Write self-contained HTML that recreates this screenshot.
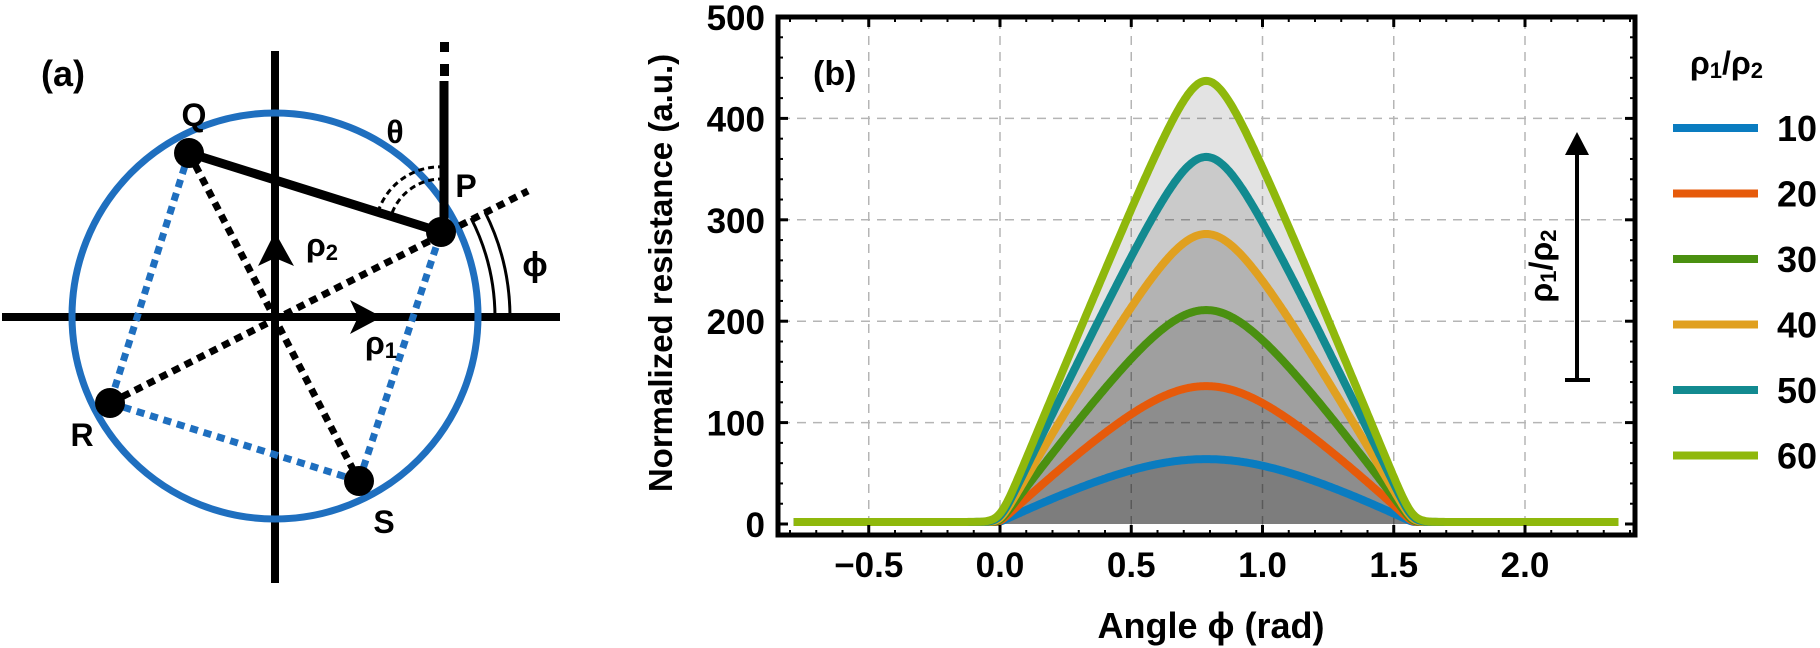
<!DOCTYPE html>
<html><head><meta charset="utf-8"><style>
html,body{margin:0;padding:0;background:#fff;}
svg{display:block;}
text{font-family:"Liberation Sans",Arial,sans-serif;font-weight:bold;fill:#000;}
</style></head><body>
<svg id="s" width="1820" height="648" viewBox="0 0 1820 648" xmlns="http://www.w3.org/2000/svg">
<g>
<line x1="2" y1="317" x2="560" y2="317" stroke="#000" stroke-width="8"/>
<line x1="275" y1="51" x2="275" y2="583" stroke="#000" stroke-width="8"/>
<circle cx="275" cy="316" r="203" fill="none" stroke="#1f6fbf" stroke-width="7"/>
<g stroke="#1f6fbf" stroke-width="7" stroke-dasharray="8,6" fill="none">
<line x1="189" y1="153" x2="110" y2="403"/>
<line x1="110" y1="403" x2="359" y2="481"/>
<line x1="359" y1="481" x2="441" y2="232"/>
</g>
<g stroke="#000" stroke-width="7" stroke-dasharray="8,6" fill="none">
<line x1="110" y1="403" x2="528" y2="191"/>
<line x1="189" y1="153" x2="359" y2="481"/>
<path d="M444,167 A65,65 0 0 0 378,212" stroke-width="3" stroke-dasharray="6,4"/>
<path d="M444,179 A53,53 0 0 0 391,216" stroke-width="3" stroke-dasharray="6,4"/>
</g>
<line x1="189" y1="153" x2="441" y2="232" stroke="#000" stroke-width="9"/>
<line x1="444" y1="232" x2="444" y2="81" stroke="#000" stroke-width="9"/>
<rect x="440" y="42" width="9" height="10"/>
<rect x="440" y="64" width="9" height="12"/>
<path d="M495,317 A220,220 0 0 0 471,218" fill="none" stroke="#000" stroke-width="3"/>
<path d="M510,317 A235,235 0 0 0 485,212" fill="none" stroke="#000" stroke-width="3"/>
<polygon points="275,232 258,266 275,258 294,266"/>
<polygon points="382,317 350,300 358,317 350,334"/>
<circle cx="189" cy="153" r="15"/>
<circle cx="441" cy="232" r="15"/>
<circle cx="110" cy="403" r="15"/>
<circle cx="359" cy="481" r="15"/>
<text x="63" y="86" font-size="36" text-anchor="middle">(a)</text>
<text x="194" y="126" font-size="32" text-anchor="middle">Q</text>
<text x="466" y="197" font-size="32" text-anchor="middle">P</text>
<text x="82" y="446" font-size="32" text-anchor="middle">R</text>
<text x="384" y="533" font-size="32" text-anchor="middle">S</text>
<text x="395" y="143" font-size="32" text-anchor="middle">θ</text>
<text x="535" y="276" font-size="34" text-anchor="middle">ϕ</text>
<text x="322" y="256" font-size="32" text-anchor="middle">ρ<tspan font-size="22" dy="4">2</tspan></text>
<text x="381" y="354" font-size="32" text-anchor="middle">ρ<tspan font-size="22" dy="4">1</tspan></text>
</g>
<g id="grid" stroke="#b5b5b5" stroke-width="1.5" stroke-dasharray="9,7"></g>
<g id="fills"></g>
<g id="lines" fill="none" stroke-width="8" stroke-linejoin="round"></g>
<g id="ticks" stroke="#000"></g>
<rect x="778" y="17" width="857" height="518" fill="none" stroke="#000" stroke-width="5"/>
<g id="labels"></g>
<text x="813" y="85" font-size="34">(b)</text>
<text transform="translate(672,273) rotate(-90)" font-size="33" text-anchor="middle">Normalized resistance (a.u.)</text>
<text x="1211" y="638" font-size="36" text-anchor="middle">Angle ϕ (rad)</text>
<line x1="1577" y1="150" x2="1577" y2="380" stroke="#000" stroke-width="4"/>
<polygon points="1577,132 1565,155 1589,155"/>
<line x1="1565" y1="380" x2="1590" y2="380" stroke="#000" stroke-width="4"/>
<text transform="translate(1552,266) rotate(-90)" font-size="32" text-anchor="middle">ρ<tspan font-size="22" dy="4">1</tspan><tspan dy="-4">/ρ</tspan><tspan font-size="22" dy="4">2</tspan></text>
<text x="1690" y="74" font-size="32">ρ<tspan font-size="22" dy="4">1</tspan><tspan dy="-4">/ρ</tspan><tspan font-size="22" dy="4">2</tspan></text>
<g id="legend"></g>
</svg>
<script>
var NS="http://www.w3.org/2000/svg";
function el(p,t,a,txt){var e=document.createElementNS(NS,t);for(var k in a)e.setAttribute(k,a[k]);if(txt!==undefined)e.textContent=txt;document.getElementById(p).appendChild(e);return e;}
function X(x){return 1000+262.5*x;}
function Y(v){return 524-1.014*v;}
var i;
for(i=-0.5;i<=2.01;i+=0.5){el("grid","line",{x1:X(i),y1:20,x2:X(i),y2:532});}
for(i=100;i<=400;i+=100){el("grid","line",{x1:781,y1:Y(i),x2:1632,y2:Y(i)});}
for(i=-8;i<=24;i++){var x=X(i/10);var maj=(i%5===0);var L=maj?10:5;var w=maj?3:2;
 el("ticks","line",{x1:x,y1:535,x2:x,y2:535-L,"stroke-width":w});
 el("ticks","line",{x1:x,y1:17,x2:x,y2:17+L,"stroke-width":w});}
for(i=0;i<=25;i++){var v=i*20;var y=Y(v);var maj=(i%5===0);var L=maj?10:5;var w=maj?3:2;
 el("ticks","line",{x1:778,y1:y,x2:778+L,y2:y,"stroke-width":w});
 el("ticks","line",{x1:1635,y1:y,x2:1635-L,y2:y,"stroke-width":w});}
var xl=[[-0.5,"\u22120.5"],[0,"0.0"],[0.5,"0.5"],[1,"1.0"],[1.5,"1.5"],[2,"2.0"]];
xl.forEach(function(d){el("labels","text",{x:X(d[0]),y:577,"font-size":35,"text-anchor":"middle"},d[1]);});
for(i=0;i<=500;i+=100){el("labels","text",{x:765,y:Y(i)+13,"font-size":35,"text-anchor":"end"},String(i));}
// [A, c (peak rounding), k (foot rounding), color]
var series=[[62,0.6,0.008,"#0a7cc0"],[134,0.4,0.012,"#e65a0a"],[209,0.3,0.016,"#4a9010"],[284,0.22,0.02,"#e0a020"],[360,0.17,0.024,"#128a90"],[435,0.13,0.028,"#8fb80c"]];
function val(s,f){var A=s[0],c=s[1],k=s[2];var u=(f-Math.PI/4)/(Math.PI/4);
 var g=1-(Math.sqrt(u*u+c*c)-c)/(Math.sqrt(1+c*c)-c);
 var z=g/k;var gs=z>30?g:k*Math.log(1+Math.exp(z));
 return A*gs+2;}
var x0=-Math.PI/4,x1=3*Math.PI/4,N=500;
series.forEach(function(s){
 var pts=[];for(var j=0;j<=N;j++){var f=x0+(x1-x0)*j/N;pts.push([X(f),Y(val(s,f))]);}
 var d="M"+pts.map(function(p){return p[0].toFixed(1)+","+p[1].toFixed(1);}).join(" L");
 el("fills","path",{d:d+" L"+X(x1)+","+Y(0)+" L"+X(x0)+","+Y(0)+" Z",fill:"rgba(0,0,0,0.11)"});
 s.d=d;});
series.forEach(function(s){el("lines","path",{d:s.d,stroke:s[3]});});
series.forEach(function(s,idx){var y=128+65.5*idx;
 el("legend","line",{x1:1673,y1:y,x2:1758,y2:y,stroke:s[3],"stroke-width":8});
 el("legend","text",{x:1777,y:y+13,"font-size":36},String((idx+1)*10));});
</script>
</body></html>
